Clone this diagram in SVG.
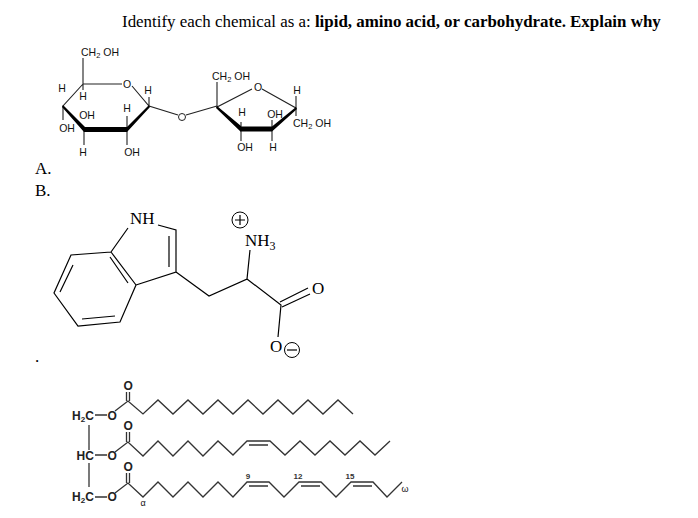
<svg xmlns="http://www.w3.org/2000/svg" width="698" height="518" viewBox="0 0 698 518">
<style>
.t{font-family:"Liberation Serif",serif;fill:#000;font-size:17px}
.s{font-family:"Liberation Sans",sans-serif;fill:#111;font-size:10.500px;text-anchor:middle}
.a{text-anchor:start}
.l{font-family:"Liberation Sans",sans-serif;fill:#222;font-weight:bold;font-size:12px}
.n{font-family:"Liberation Sans",sans-serif;fill:#333;font-size:8px;font-weight:bold;text-anchor:middle}
.b{fill:none;stroke:#222;stroke-width:1.1}
.k{fill:none;stroke:#000;stroke-width:1.2}
.f{fill:none;stroke:#333;stroke-width:1.3}
.w{fill:#000;stroke:none}
</style>
<rect width="698" height="518" fill="#fff"/>
<g id="title"><text class="t" x="122" y="27" style="font-size:16.920px">Identify each chemical as a: <tspan font-weight="bold">lipid, amino acid, or carbohydrate. Explain why</tspan></text></g>
<g id="labels">
<text class="t" x="35" y="174">A.</text>
<text class="t" x="35" y="196">B.</text>
<text class="t" x="35" y="362">.</text>
</g>
<g id="connectors">
<path class="b" d="M83 58V84H122M132 86L149 106L178 115M186 115L217 106M149 106V97M83 84L63 106V120M83 84V90M84 129V145M127 129V145M127 129V116"/>
<path class="b" d="M217 82V107L252 89M262 89L296 108V96M241 129V122M241 129V141M272 129V120M272 129V141M296 108V116"/>
<path class="w" d="M149 105L127 127L127 132L150 107ZM127 127H84V132H127ZM84 132L85 127L63 105L62 107Z"/>
<path class="w" d="M217 106L241 126V132L216 108ZM241 126.500H272V131.500H241ZM272 126.500L296 107L297 109L272 131.500Z"/>
<path class="k" d="M128 228L111 252L71 255L54 293L78 326L120 322L136 285L111 252M110 257L128 283M73 265L60 292M82 319L115 316M158 225L176 230V272L136 285M169 236V267M176 272L209 296L247 279L250 250M247 279L281 305L278 337M280 302L308 288M282 307L310 294"/>
<path class="f" d="M95 415H107M115 411L128 401L143 414L158 400L173 414L188 400L203 414L218 400L233 414L248 400L263 414L278 400L293 414L308 400L323 414L338 400L353 414M126.500 401V392M129.500 401V392"/>
<path class="f" d="M89 425V450M95 455H107M115 452L128 442L143 456L158 441L173 456L188 441L203 456L218 441L233 455L247 441H270L285 455L300 441L315 455L330 441L345 455L360 441L375 455L390 441M126.500 442V432M129.500 442V432M249 445H268"/>
<path class="f" d="M89 463V487M95 497H107M115 493L128 483L143 497L158 482L173 497L188 482L203 497L218 482L233 497L247 482H269L284 497L299 482H321L336 497L351 482H373L387 497L402 482M126.500 483V473M129.500 483V473M249 486H268M301 486H320M353 486H372"/>
</g>
<g id="sugar">
<text class="s a" x="81" y="56">CH<tspan font-size="7.500" dy="2">2</tspan><tspan dy="-2"> OH</tspan></text>
<text class="s" x="127" y="88">O</text>
<text class="s" x="62" y="92">H</text><text class="s" x="83" y="100">H</text>
<text class="s" x="87" y="119">OH</text><text class="s" x="127" y="112">H</text>
<text class="s" x="148" y="94">H</text><text class="s" x="67" y="132">OH</text>
<text class="s" x="83" y="156">H</text><text class="s" x="132" y="156">OH</text>
<circle cx="182" cy="117" r="3.500" fill="none" stroke="#222"/>
<text class="s a" x="212" y="80">CH<tspan font-size="7.500" dy="2">2</tspan><tspan dy="-2"> OH</tspan></text>
<text class="s" x="258" y="91">O</text>
<text class="s" x="242" y="116">H</text><text class="s" x="275" y="118">OH</text>
<text class="s" x="297" y="94">H</text>
<text class="s a" x="293" y="127">CH<tspan font-size="7.500" dy="2">2</tspan><tspan dy="-2"> OH</tspan></text>
<text class="s" x="245" y="151">OH</text><text class="s" x="273" y="151">H</text>
</g>
<g id="amino-acid">
<text class="t" x="130" y="224">NH</text>
<circle cx="240" cy="220" r="8" fill="none" stroke="#000"/>
<path class="k" d="M235 220H245M240 215V225"/>
<text class="t" x="245" y="246">NH<tspan font-size="12" dy="4">3</tspan></text>
<text class="t" x="312" y="294">O</text>
<text class="t" x="270" y="352">O</text>
<circle cx="292" cy="350" r="7.500" fill="none" stroke="#000"/>
<path class="k" d="M287 350H297"/>
</g>
<g id="lipid">
<text class="l" x="72" y="419.500">H<tspan font-size="8" dy="2">2</tspan><tspan dy="-2">C</tspan></text>
<text class="l" x="107.500" y="419.500">O</text>
<text class="l" x="123.500" y="389.500">O</text>
<text class="l" x="76.500" y="459.500">HC</text>
<text class="l" x="107.500" y="459.500">O</text>
<text class="l" x="123.500" y="429.500">O</text>
<text class="l" x="72" y="501">H<tspan font-size="8" dy="2">2</tspan><tspan dy="-2">C</tspan></text>
<text class="l" x="107.500" y="501">O</text>
<text class="l" x="123.500" y="471">O</text>
<text class="s" x="143" y="506" style="font-size:9px">α</text>
<text class="n" x="248" y="479">9</text>
<text class="n" x="298" y="479">12</text>
<text class="n" x="350" y="479">15</text>
<text class="s" x="405" y="492" style="font-size:9px">ω</text>
</g>
</svg>
